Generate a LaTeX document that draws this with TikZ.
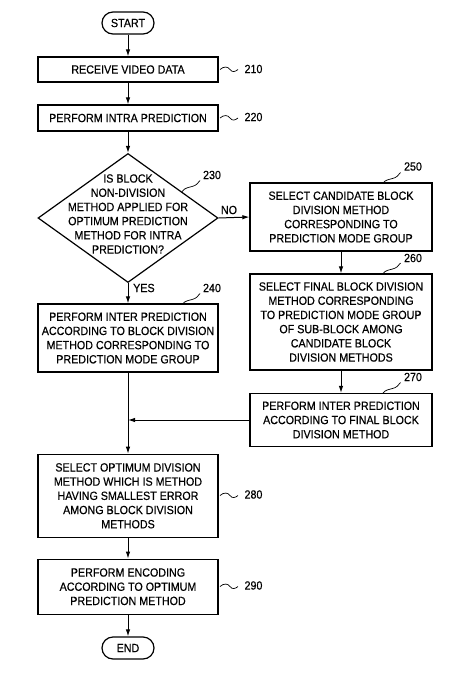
\documentclass[tikz,border=0pt]{standalone}
\usepackage{fontspec}
\setmainfont{Liberation Sans}[FakeStretch=0.9,FakeBold=0.4]
\usetikzlibrary{shapes.geometric,arrows.meta}
\begin{document}
\begin{tikzpicture}[x=1pt,y=-1pt,
  every node/.style={font=\fontsize{11.9}{14.2}\selectfont},
  box/.style={draw, line width=1.2pt, minimum width=180pt, align=center, inner sep=0pt},
  term/.style={draw, line width=1.2pt, rounded corners=11pt, minimum width=52pt, minimum height=22pt, inner sep=0pt},
  arr/.style={line width=1pt, -{Latex[length=7pt,width=4.5pt]}},
  lead/.style={line width=0.7pt},
  txt/.style={inner sep=0pt, align=center}]
\useasboundingbox[fill=white] (0,0) rectangle (474,683);

\node[term] (start) at (128,23) {START};
\node[box, minimum height=25pt] (b210) at (128,69.5) {RECEIVE VIDEO DATA};
\node[box, minimum height=26pt] (b220) at (128,118) {PERFORM INTRA PREDICTION};
\node[draw, diamond, line width=1.2pt, minimum width=180pt, minimum height=129pt, inner sep=0pt] (d230) at (128,218) {};
\node[txt] (t230) at (128,214) {IS BLOCK\\NON-DIVISION\\METHOD APPLIED FOR\\OPTIMUM PREDICTION\\METHOD FOR INTRA\\PREDICTION?};
\node[box, minimum height=68pt] (b240) at (128,338) {PERFORM INTER PREDICTION\\ACCORDING TO BLOCK DIVISION\\METHOD CORRESPONDING TO\\PREDICTION MODE GROUP};
\node[box, minimum width=182pt, minimum height=68pt] (b250) at (341,217) {SELECT CANDIDATE BLOCK\\DIVISION METHOD\\CORRESPONDING TO\\PREDICTION MODE GROUP};
\node[box, minimum width=182pt, minimum height=96pt] (b260) at (341,322) {SELECT FINAL BLOCK DIVISION\\METHOD CORRESPONDING\\TO PREDICTION MODE GROUP\\OF SUB-BLOCK AMONG\\CANDIDATE BLOCK\\DIVISION METHODS};
\node[box, minimum width=182pt, minimum height=53pt] (b270) at (341,420) {PERFORM INTER PREDICTION\\ACCORDING TO FINAL BLOCK\\DIVISION METHOD};
\node[box, minimum height=83pt] (b280) at (128,495.8) {SELECT OPTIMUM DIVISION\\METHOD WHICH IS METHOD\\HAVING SMALLEST ERROR\\AMONG BLOCK DIVISION\\METHODS};
\node[box, minimum height=55pt] (b290) at (128,586.7) {PERFORM ENCODING\\ACCORDING TO OPTIMUM\\PREDICTION METHOD};
\node[term] (end) at (128,648) {END};

% connectors
\draw[arr] (start) -- (b210);
\draw[arr] (b210) -- (b220);
\draw[arr] (b220) -- (d230.north);
\draw[arr] (d230.south) -- (b240.north);
\draw[arr] (d230.east) -- (b250.west);
\draw[arr] (b250) -- (b260);
\draw[arr] (b260) -- (b270);
\draw[arr] (b240.south) -- (b280.north);
\coordinate (j) at (128,420);
\draw[arr] (b270.west) -- (j);
\draw[arr] (b280) -- (b290);
\draw[arr] (b290) -- (end);

% branch labels
\node[txt, anchor=west] (yes) at (133,288) {YES};
\node[txt] (no) at (229,210) {NO};

% reference numerals with leaders
\node[txt] (n210) at (253.5,69) {210};
\node[txt] (n220) at (253.5,117) {220};
\node[txt] (n280) at (253.5,494.5) {280};
\node[txt] (n290) at (253.5,585.5) {290};
\node[txt] (n230) at (212,175) {230};
\node[txt] (n240) at (212,288) {240};
\node[txt] (n250) at (413,166.5) {250};
\node[txt] (n260) at (413,258) {260};
\node[txt] (n270) at (413,377) {270};

\foreach \y in {69.5,118,495.5,586.5}{
  \draw[lead] (220,\y) .. controls (224,\y-3.5) and (228,\y-3) .. (230,\y) .. controls (232,\y+3) and (235,\y+2.5) .. (238,\y);
}
\foreach \x/\y in {182/191.5, 182/304.5, 382.5/183.5, 382.5/274, 382.5/393.5}{
  \draw[lead] (\x,\y) .. controls (\x+3,\y-4) and (\x+7,\y-4) .. (\x+10,\y-5) .. controls (\x+14,\y-6) and (\x+16,\y-8) .. (\x+18,\y-11);
}
\end{tikzpicture}
\end{document}
